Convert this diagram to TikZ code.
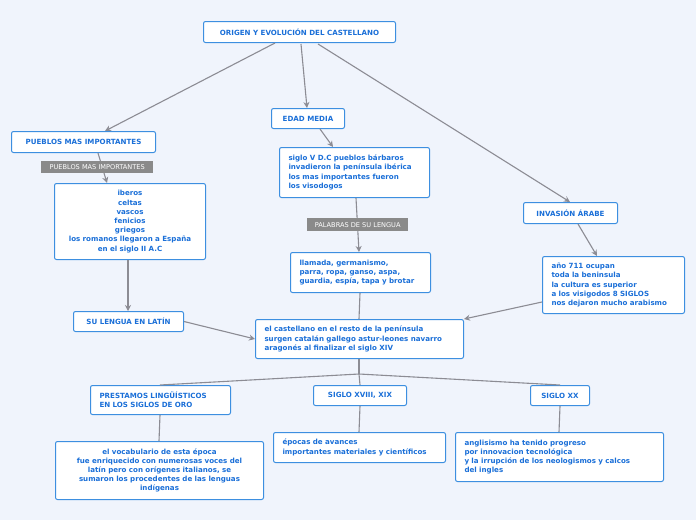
\documentclass[tikz,border=0pt]{standalone}
\usepackage{fontspec}
\setmainfont{DejaVu Sans}
\usetikzlibrary{arrows.meta}
\begin{document}
\begin{tikzpicture}[x=1pt,y=-1pt,
 box/.style={draw=bordc,line width=1pt,fill=white,rounded corners=2pt,font=\fontsize{7.1}{9.2}\selectfont\bfseries,text=txtc,inner ysep=0pt,inner xsep=0pt,anchor=north west},
 lb/.style={box,inner xsep=9pt,align=left},
 lbl/.style={fill=grayc,text=white,font=\fontsize{6.6}{7}\selectfont,inner sep=0pt,anchor=north west},
 con/.style={draw=linec,line width=1.1pt},
 arr/.style={con,-{Stealth[length=6pt,width=6pt]}}]
\definecolor{bordc}{HTML}{3D8FE0}
\definecolor{txtc}{HTML}{1A6FD8}
\definecolor{grayc}{HTML}{8A8A8A}
\definecolor{linec}{HTML}{8C8C94}
\fill[fill={rgb,255:red,240;green,244;blue,252}] (0,0) rectangle (696,520);
% boxes
\node[box,minimum width=192,minimum height=21,align=center] (t) at (203,21) {ORIGEN Y EVOLUCIÓN DEL CASTELLANO};
\node[box,minimum width=144,minimum height=21,align=center] (pu) at (11,131) {PUEBLOS MAS IMPORTANTES};
\node[box,minimum width=151,minimum height=76,text width=151,align=center] (ib) at (54,183) {iberos\\celtas\\vascos\\fenicios\\griegos\\los romanos llegaron a España\\en el siglo II A.C};
\node[box,minimum width=73,minimum height=20,align=center] (em) at (271,108) {EDAD MEDIA};
\node[lb,text width=132,minimum height=50] (sv) at (279,147) {siglo V D.C pueblos bárbaros\\invadieron la península ibérica\\los mas importantes fueron\\los visodogos};
\node[lb,text width=122,minimum height=40] (ll) at (290,252) {llamada, germanismo,\\parra, ropa, ganso, aspa,\\guardia, espía, tapa y brotar};
\node[box,minimum width=94,minimum height=21,align=center] (ia) at (523,202) {INVASIÓN ÁRABE};
\node[lb,text width=124,minimum height=57] (an) at (542,256) {año 711 ocupan\\toda la beninsula\\la cultura es superior\\a los visigodos 8 SIGLOS\\nos dejaron mucho arabismo};
\node[box,minimum width=110,minimum height=20,align=center] (sl) at (73,311) {SU LENGUA EN LATÍN};
\node[lb,text width=190,minimum height=39] (ca) at (255,319) {el castellano en el resto de la península\\surgen catalán gallego astur-leones navarro\\aragonés al finalizar el siglo XIV};
\node[lb,text width=122,minimum height=29] (pr) at (90,385) {PRESTAMOS LINGÜÍSTICOS\\EN LOS SIGLOS DE ORO};
\node[box,minimum width=93,minimum height=20,align=center] (s18) at (313,385) {SIGLO XVIII, XIX};
\node[box,minimum width=59,minimum height=20,align=center] (s20) at (530,385) {SIGLO XX};
\node[box,text width=208,minimum height=58,align=center] (vo) at (55,441) {el vocabulario de esta época\\fue enriquecido con numerosas voces del\\latín pero con orígenes italianos, se\\sumaron los procedentes de las lenguas\\indígenas};
\node[lb,text width=154,minimum height=30] (ep) at (273,432) {épocas de avances\\importantes materiales y científicos};
\node[lb,text width=190,minimum height=49] (ag) at (455,432) {anglisismo ha tenido progreso\\por innovacion tecnológica\\y la irrupción de los neologismos y calcos\\del ingles};
% coordinates
\coordinate (t1) at (275,43); \coordinate (t2) at (301,44); \coordinate (t3) at (318,44);
\coordinate (hub) at (359,374);
% connectors
\draw[arr] (t1) -- (pu.north -| 105,0);
\draw[arr] (t2) -- (em.north -| 307,0);
\draw[arr] (t3) -- (ia.north -| 570,0);
\draw[arr] (pu.south -| 98,0) -- (ib.north -| 107,0);
\draw[arr] (em.south -| 320,0) -- (sv.north -| 333,0);
\draw[arr] (sv.south -| 356,0) -- (ll.north -| 359,0);
\draw[arr] (ia.south -| 578,0) -- (an.north -| 597,0);
\draw[arr] (ib.south -| 128,0) -- (sl.north -| 128,0);
\draw[arr] (sl.east) -- (ca.west);
\draw[arr] (an.west |- 0,302) -- (ca.north east);
\draw[con] (ll.south -| 360,0) -- (ca.north -| 359,0);
\draw[con] (ca.south -| 359,0) -- (hub);
\draw[con] (hub) -- (pr.north -| 160,0);
\draw[con] (hub) -- (s18.north);
\draw[con] (hub) -- (s20.north);
\draw[con] (pr.south -| 160,0) -- (vo.north -| 159,0);
\draw[con] (s18.south) -- (ep.north -| 359,0);
\draw[con] (s20.south) -- (ag.north -| 559,0);
% labels
\node[lbl,minimum width=112,minimum height=12] (l1) at (41,161) {PUEBLOS MAS IMPORTANTES};
\node[lbl,minimum width=101,minimum height=13] (l2) at (307,218) {PALABRAS DE SU LENGUA};
\end{tikzpicture}
\end{document}
